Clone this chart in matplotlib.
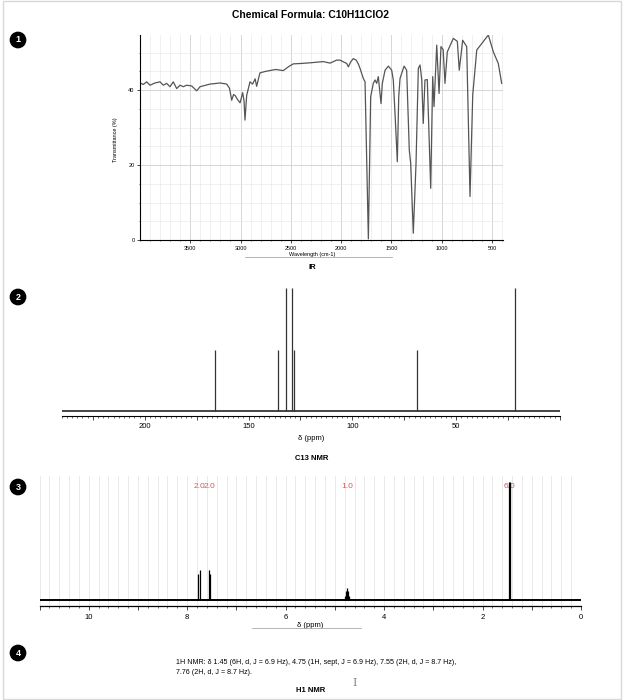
import matplotlib.pyplot as plt
from matplotlib.ticker import MultipleLocator, FuncFormatter
from matplotlib.patches import Rectangle
from matplotlib.lines import Line2D

plt.rcParams['font.family'] = ['Liberation Sans', 'DejaVu Sans']

# IR spectrum
ir_wavenumber = [4000, 3967, 3934, 3901, 3851, 3801, 3768, 3735, 3702, 3669,
                 3635, 3602, 3569, 3536, 3486, 3436, 3403, 3304, 3204, 3138,
                 3110, 3088, 3070, 3055, 3030, 3005, 2979, 2965, 2956, 2939,
                 2906, 2880, 2855, 2840, 2807, 2750, 2650, 2575, 2520, 2475,
                 2400, 2300, 2177, 2110, 2044, 2011, 1975, 1944, 1928, 1905,
                 1879, 1850, 1829, 1812, 1779, 1762, 1729, 1706, 1680, 1663,
                 1646, 1630, 1603, 1590, 1563, 1530, 1497, 1481, 1464, 1441,
                 1427, 1414, 1374, 1348, 1322, 1308, 1282, 1255, 1232, 1215,
                 1198, 1183, 1166, 1143, 1109, 1089, 1076, 1049, 1026, 1007,
                 985, 967, 944, 884, 844, 825, 791, 751, 718, 691,
                 651, 602, 536, 486, 437, 403]
ir_transmittance = [41.9, 41.5, 42.2, 41.3, 41.9, 42.2, 41.3, 41.8, 40.9, 42.2,
                    40.4, 41.3, 40.9, 41.3, 41.1, 39.8, 40.9, 41.6, 41.9, 41.6,
                    40.5, 37.3, 38.8, 38.6, 37.5, 36.6, 39.3, 37.0, 32.0, 38.6,
                    42.2, 41.6, 43.0, 41.0, 44.6, 45.0, 45.5, 45.2, 46.3, 47.0,
                    47.1, 47.3, 47.6, 47.2, 48.0, 48.0, 47.5, 47.1, 46.2, 47.5,
                    48.4, 48.0, 47.0, 45.8, 43.1, 42.2, 0.3, 38.2, 41.8, 42.7,
                    41.8, 43.6, 36.4, 41.8, 45.3, 46.4, 45.3, 42.7, 33.8, 20.9,
                    38.2, 43.1, 46.4, 45.3, 24.0, 20.4, 1.8, 20.4, 45.8, 46.7,
                    42.7, 31.1, 42.7, 42.8, 13.8, 43.6, 35.6, 52.0, 39.1, 51.6,
                    50.8, 41.8, 50.2, 53.8, 53.0, 45.3, 53.3, 51.6, 11.6, 38.7,
                    50.7, 52.4, 54.7, 50.2, 47.1, 41.8]
ir_ticks = [3500, 3000, 2500, 2000, 1500, 1000, 500]

# C13 NMR lines
c13_shift = [166.3, 136.0, 131.8, 128.9, 128.1, 68.8, 21.5]
c13_height = [0.5, 0.5, 1.0, 1.0, 0.5, 0.5, 1.0]

# H1 NMR lines
h1_shift = [7.771, 7.749, 7.561, 7.539,
            4.802, 4.785, 4.767, 4.750, 4.733, 4.715, 4.698,
            1.459, 1.441]
h1_height = [0.22, 0.25, 0.25, 0.22,
             0.005, 0.03, 0.075, 0.10, 0.075, 0.03, 0.005,
             1.0, 1.0]
h1_integral_pos = [7.76, 7.55, 4.75, 1.45]
h1_integral_text = ['2.0', '2.0', '1.0', '6.0']

h1_note = ('1H NMR: \u03b4 1.45 (6H, d, J = 6.9 Hz), 4.75 (1H, sept, J = 6.9 Hz), '
           '7.55 (2H, d, J = 8.7 Hz),\n7.76 (2H, d, J = 8.7 Hz).')

W, H = 625, 700
fig = plt.figure(figsize=(6.25, 7), dpi=100)


def fx(px):
    return px / W


def fy(py):
    return 1 - py / H


# page frame
fig.patches.append(Rectangle((fx(3), fy(699)), fx(618), 698 / H, transform=fig.transFigure,
                             fill=False, ec='#d8d8d8', lw=1))

fig.text(fx(310), fy(15), 'Chemical Formula: C10H11ClO2', ha='center', va='center',
         fontsize=7.4, weight='bold')

for num, py in zip(['1', '2', '3', '4'], [40, 297, 487, 653]):
    fig.text(fx(18), fy(py), num, ha='center', va='center', color='white', fontsize=6.5,
             weight='bold', bbox=dict(boxstyle='circle,pad=0.35', fc='black', ec='black'))

# ---- IR ----
ax_ir = fig.add_axes([fx(140), fy(240), fx(363), 205 / H])
ax_ir.plot(ir_wavenumber, ir_transmittance, color='#555555', lw=0.9)
ax_ir.set_xlim(4000, 390)
ax_ir.set_ylim(0, 54.7)
ax_ir.set_xticks(ir_ticks)
ax_ir.xaxis.set_minor_locator(MultipleLocator(100))
ax_ir.set_yticks([0, 20, 40])
ax_ir.yaxis.set_minor_locator(MultipleLocator(5))
ax_ir.grid(which='major', color='#d0d0d0', lw=0.6)
ax_ir.grid(which='minor', color='#e8e8e8', lw=0.45)
ax_ir.set_axisbelow(True)
for s in ['top', 'right']:
    ax_ir.spines[s].set_visible(False)
for s in ['left', 'bottom']:
    ax_ir.spines[s].set_linewidth(0.8)
ax_ir.tick_params(labelsize=4, length=2, width=0.5, pad=2)
ax_ir.tick_params(which='minor', length=1, width=0.4)
ax_ir.set_ylabel('Transmittance (%)', fontsize=4)
ax_ir.yaxis.set_label_coords(-0.06, 0.49)
ax_ir.set_xlabel('Wavelength (cm-1)', fontsize=4)
ax_ir.xaxis.set_label_coords(0.475, -0.058)
fig.lines.append(Line2D([fx(245), fx(392)], [fy(257), fy(257)], transform=fig.transFigure,
                        color='#aaaaaa', lw=0.6))
fig.text(fx(312), fy(268), 'IR', ha='center', va='center', fontsize=5.5, weight='bold')

# ---- C13 NMR ----
ax_c = fig.add_axes([fx(61.7), fy(415.7), fx(498.3), 135.7 / H])
ax_c.axhline(0, color='#444444', lw=1.4)
ax_c.vlines(c13_shift, 0, c13_height, color='#333333', lw=0.9)
ax_c.set_xlim(240, 0)
ax_c.set_ylim(-0.038, 1.068)
ax_c.xaxis.set_major_locator(MultipleLocator(25))
ax_c.xaxis.set_minor_locator(MultipleLocator(2.5))
ax_c.xaxis.set_major_formatter(FuncFormatter(
    lambda v, p: '%d' % v if v % 50 == 0 and 0 < v < 240 else ''))
ax_c.set_yticks([])
for s in ['top', 'right', 'left']:
    ax_c.spines[s].set_visible(False)
ax_c.spines['bottom'].set_linewidth(0.8)
ax_c.tick_params(axis='x', labelsize=5.5, length=3, width=0.5, pad=2.5)
ax_c.tick_params(axis='x', which='minor', length=1.5, width=0.4)
ax_c.set_xlabel('\u03b4 (ppm)', fontsize=5.5, labelpad=3)
fig.text(fx(312), fy(459), 'C13 NMR', ha='center', va='center', fontsize=5.5, weight='bold')

# ---- H1 NMR ----
ax_h = fig.add_axes([fx(39.5), fy(606), fx(541.5), 130 / H])
ax_h.axhline(0, color='black', lw=1.4, zorder=3)
ax_h.vlines(h1_shift, 0, h1_height, color='black', lw=0.9, zorder=4)
ax_h.set_xlim(11, 0)
ax_h.set_ylim(-0.0506, 1.048)
ax_h.xaxis.set_major_locator(MultipleLocator(1))
ax_h.xaxis.set_minor_locator(MultipleLocator(0.2))
ax_h.xaxis.set_major_formatter(FuncFormatter(
    lambda v, p: '%d' % round(v) if round(v) % 2 == 0 else ''))
ax_h.grid(axis='x', which='both', color='#e0e0e0', lw=0.5)
ax_h.set_axisbelow(True)
ax_h.set_yticks([])
for s in ['top', 'right', 'left']:
    ax_h.spines[s].set_visible(False)
ax_h.spines['bottom'].set_linewidth(0.9)
ax_h.tick_params(axis='x', labelsize=5.5, length=3, width=0.5, pad=2.5)
ax_h.tick_params(axis='x', which='minor', length=1.5, width=0.4)
ax_h.set_xlabel('\u03b4 (ppm)', fontsize=5.5, labelpad=1)
for pos, txt in zip(h1_integral_pos, h1_integral_text):
    ax_h.text(pos, 0.923, txt, transform=ax_h.get_xaxis_transform(), ha='center',
              va='center', fontsize=6, color='#e05555', zorder=2)
fig.lines.append(Line2D([fx(252), fx(361)], [fy(628), fy(628)], transform=fig.transFigure,
                        color='#aaaaaa', lw=0.6))

fig.text(fx(176), fy(667.5), h1_note, ha='left', va='center', fontsize=5.1, linespacing=1.45)
fig.text(fx(311), fy(690), 'H1 NMR', ha='center', va='center', fontsize=5.5, weight='bold')
fig.text(fx(355), fy(683), 'I', ha='center', va='center', fontsize=8, color='#888888',
         family='DejaVu Serif')

fig.savefig('out.png', dpi=100)
